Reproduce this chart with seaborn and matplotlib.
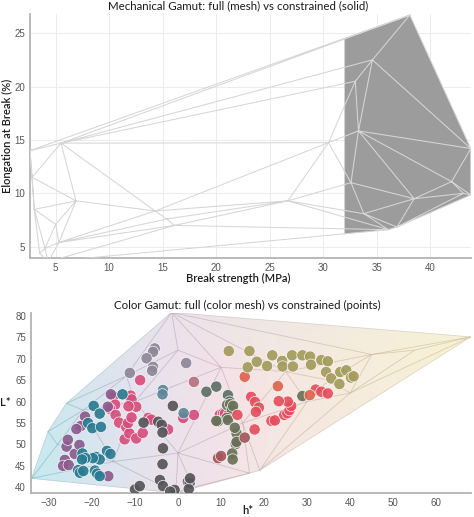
import numpy as np
import pandas as pd
import matplotlib
matplotlib.use("Agg")
import matplotlib.pyplot as plt
import matplotlib.tri as mtri
from matplotlib.colors import LinearSegmentedColormap
import seaborn as sns

# ---------------- data ----------------
# Mechanical gamut: full mesh nodes
mech_strength = [2.6, 5.5, 6.9, 5.0, 4.0, 3.5, 4.3, 14.3, 15.4, 16.1, 26.7, 30.5,
                 33.3, 33.8, 36.1, 36.9, 38.1, 43.8, 43.8, 42.0, 43.1,
                 2.8, 3.0, 5.3, 33.0, 34.6, 38.5, 32.6]
mech_elong = [14.0, 14.7, 9.3, 7.1, 4.85, 4.4, 3.6, 8.35, 7.6, 7.0, 9.3, 14.75,
              15.85, 8.1, 6.6, 6.85, 26.7, 14.2, 9.85, 11.1, 10.0,
              11.5, 8.5, 5.4, 20.5, 22.5, 9.5, 11.0]
min_strength = 32.0  # constraint: break strength >= 32 MPa

# Color gamut: full mesh nodes (h*, L*)
gamut_h = [-34.0, -30.2, -25.9, -1.5, 68.0, 19.0, 16.6, 3.5, -0.5,
           -28.0, -22.0, -12.0, 0.0, 10.0, 25.0, 45.0, 55.0, 30.0, 15.0,
           0.0, -15.0, -10.0, 35.0, 40.0]
gamut_L = [42.1, 53.0, 59.6, 80.8, 75.1, 44.0, 43.3, 40.0, 38.7,
           50.0, 58.0, 66.0, 72.0, 68.0, 67.0, 71.0, 72.0, 60.0, 55.0,
           48.0, 46.0, 60.0, 65.0, 62.0]

# Constrained colour points, per hue family: (h*, L*)
pts_lavender = [(-5.4, 72.4), (-5.8, 71.6), (-7.3, 70.1), (-5.8, 68.1), (-6.0, 67.2),
                (-11.2, 66.7), (1.9, 69.0)]
pts_rose = [(3.7, 64.6)]
pts_pink = [(-8.8, 65.0), (-15.0, 61.3), (-11.0, 61.4), (-10.8, 60.5), (-14.6, 59.3),
            (-9.7, 58.8), (-15.8, 58.3), (-11.5, 58.9), (-14.5, 56.9), (-13.7, 55.1),
            (-12.0, 54.0), (-12.4, 51.2), (-11.3, 52.6), (-11.6, 55.0), (-10.8, 56.3),
            (-9.7, 51.4), (-8.2, 52.7), (-6.9, 56.2), (-6.2, 55.8), (-2.3, 53.5),
            (1.2, 56.2), (3.7, 56.9), (9.7, 56.9), (10.5, 57.3), (10.9, 57.2),
            (11.9, 57.3)]
pts_purple = [(-16.3, 58.8), (-21.6, 56.5), (-22.6, 54.3), (-23.6, 53.6), (-25.9, 49.5),
              (-25.6, 51.1), (-24.0, 47.8), (-22.9, 49.9), (-26.3, 46.4), (-26.7, 45.0),
              (-25.4, 45.2), (-16.2, 42.6), (-15.6, 61.7)]
pts_teal = [(-12.9, 61.7), (-19.6, 59.0), (-18.2, 57.2), (-20.9, 55.0), (-19.9, 53.8),
            (-17.9, 54.1), (-16.5, 48.5), (-15.7, 47.8), (-19.1, 47.1), (-18.2, 46.5),
            (-19.8, 46.8), (-22.2, 47.9), (-21.5, 46.8), (-22.3, 46.5), (-23.2, 44.0),
            (-22.8, 43.4), (-22.0, 43.8), (-19.3, 43.9), (-18.8, 43.2), (-18.2, 42.6)]
pts_steel = [(-3.5, 62.7), (-3.6, 61.7), (1.3, 57.3)]
pts_dark = [(-8.0, 55.1), (-4.6, 55.3), (-3.8, 54.6), (-3.6, 52.8), (-1.2, 59.0),
            (-3.5, 49.1), (-3.6, 45.4), (-4.2, 41.7), (-3.5, 40.3), (-0.8, 39.4),
            (-1.8, 39.0), (-10.0, 39.5), (-8.9, 40.3), (2.3, 41.3), (2.7, 41.0),
            (2.5, 39.6), (2.8, 42.1)]
pts_slate = [(6.6, 62.3), (8.9, 63.5), (11.6, 61.5), (12.0, 60.0)]
pts_olive = [(11.4, 59.2), (12.1, 59.4), (12.5, 58.1), (12.8, 59.0), (9.3, 55.4),
             (11.3, 56.2), (8.9, 55.5), (11.6, 55.7), (13.6, 52.6), (13.2, 53.9),
             (13.4, 50.1), (12.6, 47.9), (12.7, 46.5), (13.6, 50.6), (28.9, 61.3)]
pts_darkred = [(9.3, 46.8), (10.0, 47.3), (15.5, 51.6)]
pts_red = [(13.8, 56.9), (17.0, 61.1), (17.9, 59.9), (18.8, 58.6), (18.1, 57.6),
           (17.8, 53.5), (21.7, 55.5), (22.5, 55.6), (24.7, 56.9), (25.4, 57.3),
           (25.9, 58.0), (26.3, 59.0), (25.5, 60.0), (23.4, 60.1), (32.0, 62.8),
           (33.3, 62.3), (34.8, 61.9)]
pts_orange = [(15.5, 65.8), (23.2, 63.6), (30.6, 61.5)]
pts_khaki = [(11.8, 71.8), (16.6, 71.8), (16.2, 68.0), (18.3, 69.3), (20.7, 68.3),
             (21.9, 70.8), (24.2, 69.5), (24.3, 68.2), (26.7, 68.2), (26.5, 70.8),
             (28.9, 70.8), (30.7, 70.5), (30.9, 68.6), (33.3, 69.7), (34.8, 69.4),
             (34.4, 66.9), (35.6, 65.4), (37.5, 64.1), (37.7, 66.9), (39.1, 67.3),
             (40.2, 65.6), (40.8, 65.9)]

family_colors = {
    "lavender": "#8e8798", "rose": "#b8707f", "pink": "#d64f7c", "purple": "#8b5b8e",
    "teal": "#2a7b91", "steel": "#5f8796", "dark": "#57545a", "slate": "#5f6f68",
    "olive": "#6b7158", "darkred": "#a2585d", "red": "#e4505d", "orange": "#df654e",
    "khaki": "#a49b5c",
}
families = {
    "lavender": pts_lavender, "rose": pts_rose, "pink": pts_pink, "purple": pts_purple,
    "teal": pts_teal, "steel": pts_steel, "dark": pts_dark, "slate": pts_slate,
    "olive": pts_olive, "darkred": pts_darkred, "red": pts_red, "orange": pts_orange,
    "khaki": pts_khaki,
}

# ---------------- helpers ----------------
def convex_hull(points):
    pts = sorted(set(points))
    def cross(o, a, b):
        return (a[0] - o[0]) * (b[1] - o[1]) - (a[1] - o[1]) * (b[0] - o[0])
    lower, upper = [], []
    for p in pts:
        while len(lower) >= 2 and cross(lower[-2], lower[-1], p) <= 0:
            lower.pop()
        lower.append(p)
    for p in reversed(pts):
        while len(upper) >= 2 and cross(upper[-2], upper[-1], p) <= 0:
            upper.pop()
        upper.append(p)
    return lower[:-1] + upper[:-1]

def clip_min_x(poly, c):
    out = []
    n = len(poly)
    for i in range(n):
        p, q = poly[i], poly[(i + 1) % n]
        pin, qin = p[0] >= c, q[0] >= c
        if pin:
            out.append(p)
        if pin != qin:
            t = (c - p[0]) / (q[0] - p[0])
            out.append((c, p[1] + t * (q[1] - p[1])))
    return out

# ---------------- style ----------------
sns.set_theme(style="whitegrid")
plt.rcParams["font.family"] = ["Liberation Sans", "DejaVu Sans"]
plt.rcParams.update({
    "axes.edgecolor": "#b3b3b3", "grid.color": "#ececec", "grid.linewidth": 0.7,
    "xtick.color": "#555555", "ytick.color": "#555555",
    "xtick.labelsize": 7, "ytick.labelsize": 7,
})
title_kw = dict(family=["Lato", "DejaVu Sans"], fontsize=8.3, color="#1a1a1a")
label_kw = dict(family=["Lato", "DejaVu Sans"], fontsize=8, color="#1a1a1a", fontweight=600)

fig = plt.figure(figsize=(4.74, 5.17), dpi=100)
ax1 = fig.add_axes([0.0633, 0.501, 0.930, 0.472])
ax2 = fig.add_axes([0.065, 0.0458, 0.928, 0.349])

def style_axes(ax):
    for s in ["top", "right"]:
        ax.spines[s].set_visible(False)
    for s in ["left", "bottom"]:
        ax.spines[s].set_linewidth(1.3)
        ax.spines[s].set_color("#b3b3b3")
    ax.tick_params(direction="in", length=3, width=0.6, color="#888888", pad=3.5)
    ax.set_axisbelow(True)

# ---------------- top: mechanical gamut ----------------
tri1 = mtri.Triangulation(mech_strength, mech_elong)
hull1 = convex_hull(list(zip(mech_strength, mech_elong)))
region = clip_min_x(hull1, min_strength)
ax1.fill([p[0] for p in region], [p[1] for p in region], color="#9c9c9c", lw=0, zorder=2)
ax1.triplot(tri1, color="#d6d6d6", lw=0.75, marker=None, zorder=3)
ax1.set_xlim(2.6, 43.8)
ax1.set_ylim(3.95, 26.8)
ax1.set_xticks([5, 10, 15, 20, 25, 30, 35, 40])
ax1.set_yticks([5, 10, 15, 20, 25])
style_axes(ax1)
ax1.set_title("Mechanical Gamut: full (mesh) vs constrained (solid)", x=0.472, pad=3, **title_kw)
ax1.set_xlabel("Break strength (MPa)", **label_kw)
ax1.set_ylabel("Elongation at Break (%)", **label_kw)
ax1.xaxis.set_label_coords(0.472, -0.083)
ax1.yaxis.set_label_coords(-0.052, 0.5)
ax1.xaxis.label.set_va("center")
ax1.yaxis.label.set_va("center")

# ---------------- bottom: colour gamut ----------------
tri2 = mtri.Triangulation(gamut_h, gamut_L)
cmap = LinearSegmentedColormap.from_list(
    "gamut", [(0.0, "#6fcad8"), (0.22, "#b9b8d6"), (0.4, "#e0b4c8"),
              (0.62, "#e8c9b2"), (1.0, "#ecdf96")])
ax2.tripcolor(tri2, gamut_h, shading="gouraud", cmap=cmap, alpha=0.4,
              vmin=-34, vmax=68, zorder=1)
ax2.triplot(tri2, color="#8f8f8f", lw=0.45, alpha=0.3, zorder=2)

rows = []
for fam, pts in families.items():
    for h, L in pts:
        rows.append({"h": h, "L": L, "family": fam})
df = pd.DataFrame(rows)
sns.scatterplot(data=df, x="h", y="L", hue="family", palette=family_colors,
                s=66, edgecolor="white", linewidth=0.5, alpha=0.92,
                legend=False, ax=ax2, zorder=3)
ax2.set_xlim(-34.2, 68)
ax2.set_ylim(38.6, 80.7)
ax2.set_xticks([-30, -20, -10, 0, 10, 20, 30, 40, 50, 60])
ax2.set_yticks([40, 45, 50, 55, 60, 65, 70, 75, 80])
style_axes(ax2)
ax2.set_title("Color Gamut: full (color mesh) vs constrained (points)", x=0.492, pad=3, **title_kw)
ax2.set_xlabel("h*", **label_kw)
ax2.set_ylabel("L*", rotation=0, **label_kw)
ax2.xaxis.set_label_coords(0.493, -0.097)
ax2.yaxis.set_label_coords(-0.057, 0.505)
ax2.xaxis.label.set_va("center")
ax2.yaxis.label.set_va("center")
ax2.yaxis.label.set_ha("center")

fig.savefig("out.png", dpi=100)
